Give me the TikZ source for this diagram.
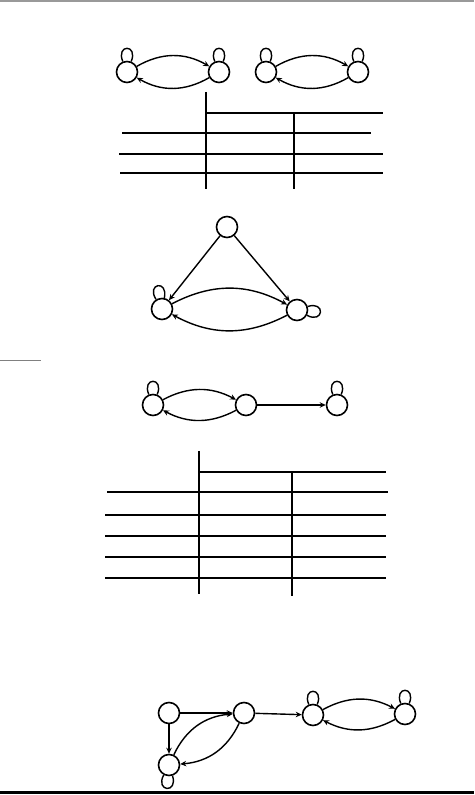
\documentclass[tikz,border=0pt]{standalone}
\usetikzlibrary{arrows.meta}
\tikzset{
  st/.style={circle,draw,line width=1.6pt,minimum size=21pt,inner sep=0pt},
  con/.style={line width=1.4pt,-{Stealth[length=6pt,width=5.5pt,inset=2pt]}},
  lp/.style={line width=1.4pt,distance=19pt},
  tl/.style={line width=1.7pt},
  tlb/.style={line width=2.2pt},
}
\begin{document}
\begin{tikzpicture}[x=1pt,y=1pt]
\useasboundingbox (0,0) rectangle (474,795);
% frame lines
\coordinate (tgL) at (0,794);\coordinate (tgR) at (474,794);
\draw[gray!80,line width=2pt] (tgL) -- (tgR);
\coordinate (bL) at (0,2);\coordinate (bR) at (474,2);
\draw[line width=3pt] (bL) -- (bR);
\coordinate (sgL) at (0,434);\coordinate (sgR) at (41,434);
\draw[gray,line width=1pt] (sgL) -- (sgR);

% graph 1
\node[st] (a1) at (127,723) {};
\node[st] (a2) at (219,723) {};
\node[st] (a3) at (266,723) {};
\node[st] (a4) at (358,723) {};
\draw[con] (a1) to[bend left=30] (a2);
\draw[con] (a2) to[bend left=30] (a1);
\draw[con] (a3) to[bend left=30] (a4);
\draw[con] (a4) to[bend left=30] (a3);
\foreach \n in {a1,a2,a3,a4}{\draw[lp] (\n) to[out=112,in=68] (\n);}

% table 1
\coordinate (v1t) at (206,703);\coordinate (v1b) at (206,606);
\coordinate (v2t) at (294,682);\coordinate (v2b) at (294,606);
\draw[tlb] (v1t) -- (v1b);
\draw[tlb] (v2t) -- (v2b);
\coordinate (h1l) at (206,682);\coordinate (h1r) at (383,682);
\coordinate (h2l) at (122,662);\coordinate (h2r) at (371,662);
\coordinate (h3l) at (119,641);\coordinate (h3r) at (383,641);
\coordinate (h4l) at (120,622);\coordinate (h4r) at (383,622);
\draw[tl] (h1l) -- (h1r);
\draw[tl] (h2l) -- (h2r);
\draw[tlb] (h3l) -- (h3r);
\draw[tl] (h4l) -- (h4r);

% graph 3
\node[st] (t) at (227,568) {};
\node[st] (bl) at (162,486) {};
\node[st] (br) at (297,485) {};
\draw[con] (t) -- (bl);
\draw[con] (t) -- (br);
\draw[con] (bl) to[bend left=28] (br);
\draw[con] (br) to[bend left=28] (bl);
\draw[lp] (bl) to[out=122,in=78] (bl);
\draw[lp] (br) to[out=18,in=-28] (br);

% graph 4
\node[st] (A) at (153,390) {};
\node[st] (B) at (246,390) {};
\node[st] (C) at (337,390) {};
\draw[con] (A) to[bend left=28] (B);
\draw[con] (B) to[bend left=28] (A);
\draw[con] (B) -- (C);
\draw[lp] (A) to[out=112,in=68] (A);
\draw[lp] (C) to[out=112,in=68] (C);

% table 2
\coordinate (w1t) at (199,344);\coordinate (w1b) at (199,201);
\coordinate (w2t) at (292,323);\coordinate (w2b) at (292,199);
\draw[tlb] (w1t) -- (w1b);
\draw[tlb] (w2t) -- (w2b);
\coordinate (g1l) at (199,323);\coordinate (g1r) at (386,323);
\coordinate (g2l) at (107,303);\coordinate (g2r) at (388,303);
\coordinate (g3l) at (105,280);\coordinate (g3r) at (386,280);
\coordinate (g4l) at (105,259);\coordinate (g4r) at (386,259);
\coordinate (g5l) at (105,238);\coordinate (g5r) at (386,238);
\coordinate (g6l) at (105,217);\coordinate (g6r) at (386,217);
\draw[tlb] (g1l) -- (g1r);
\draw[tl] (g2l) -- (g2r);
\draw[tlb] (g3l) -- (g3r);
\draw[tl] (g4l) -- (g4r);
\draw[tlb] (g5l) -- (g5r);
\draw[tlb] (g6l) -- (g6r);

% graph 5
\node[st] (P) at (169,82) {};
\node[st] (Q) at (244,82) {};
\node[st] (R) at (313,80) {};
\node[st] (S) at (405,81) {};
\node[st] (T) at (169,30) {};
\draw[con] (P) -- (Q);
\draw[con] (P) -- (T);
\draw[con] (Q) -- (R);
\draw[con] (T) to[bend left=30] (Q);
\draw[con] (Q) to[bend left=30] (T);
\draw[con] (R) to[bend left=28] (S);
\draw[con] (S) to[bend left=28] (R);
\draw[lp] (R) to[out=112,in=68] (R);
\draw[lp] (S) to[out=112,in=68] (S);
\draw[lp] (T) to[out=-72,in=-118] (T);
\end{tikzpicture}
\end{document}
